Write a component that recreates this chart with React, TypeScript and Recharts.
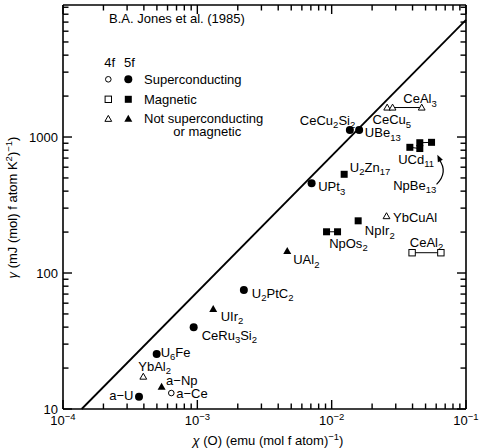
import React from 'react';
import { ScatterChart, Scatter, XAxis, YAxis, ReferenceLine } from 'recharts';

type Pt = { name: string; chi: number; gamma: number };

// 5f superconducting (filled circles)
const sc5f: Pt[] = [
  { name: 'a−U', chi: 3.68e-4, gamma: 12.3 },
  { name: 'U6Fe', chi: 4.98e-4, gamma: 25.4 },
  { name: 'CeRu3Si2', chi: 9.39e-4, gamma: 39.9 },
  { name: 'U2PtC2', chi: 2.22e-3, gamma: 75 },
  { name: 'UPt3', chi: 7.09e-3, gamma: 457 },
  { name: 'CeCu2Si2', chi: 0.01366, gamma: 1126 },
  { name: 'UBe13', chi: 0.01602, gamma: 1126 },
];
// 4f superconducting (open circles)
const sc4f: Pt[] = [{ name: 'a−Ce', chi: 6.4e-4, gamma: 13.1 }];

// magnetic (squares)
const mag5f: Pt[] = [
  { name: 'U2Zn17', chi: 0.01239, gamma: 532 },
  { name: 'NpIr2', chi: 0.01575, gamma: 242 },
];
const npOs2: Pt[] = [
  { name: 'NpOs2', chi: 0.00916, gamma: 201 },
  { name: '', chi: 0.01106, gamma: 201 },
];
const uCd11: Pt[] = [
  { name: 'UCd11', chi: 0.0382, gamma: 840 },
  { name: '', chi: 0.0453, gamma: 823 },
];
const npBe13: Pt[] = [
  { name: '', chi: 0.0453, gamma: 908 },
  { name: 'NpBe13', chi: 0.0554, gamma: 914 },
];
const ceAl2: Pt[] = [
  { name: 'CeAl2', chi: 0.0397, gamma: 141 },
  { name: '', chi: 0.065, gamma: 141 },
];

// not superconducting or magnetic (triangles)
const other5f: Pt[] = [
  { name: 'a−Np', chi: 5.42e-4, gamma: 14.6 },
  { name: 'UIr2', chi: 1.313e-3, gamma: 54.4 },
  { name: 'UAl2', chi: 4.67e-3, gamma: 145 },
];
const other4f: Pt[] = [
  { name: 'YbAl2', chi: 3.96e-4, gamma: 17.3 },
  { name: 'YbCuAl', chi: 0.0256, gamma: 262 },
  { name: 'CeCu5', chi: 0.0259, gamma: 1648 },
];
const ceAl3: Pt[] = [
  { name: '', chi: 0.0284, gamma: 1648 },
  { name: 'CeAl3', chi: 0.0468, gamma: 1648 },
];

// gamma proportional to chi
const diagonal = [
  { chi: 1.377e-4, gamma: 10 },
  { chi: 0.1, gamma: 7260 },
];

const xMajor = [1e-4, 1e-3, 1e-2, 1e-1];
const xMajorLabels = ['−4', '−3', '−2', '−1'];
const yMajor = [10, 100, 1000];
const yMajorLabels = ['10', '100', '1000'];
const minorSteps = [2, 3, 4, 5, 6, 7, 8, 9];

const X_DOMAIN: [number, number] = [1e-4, 1e-1];
const Y_DOMAIN: [number, number] = [10, 9350];

const xTicks = [
  ...xMajor,
  ...xMajor.slice(0, -1).flatMap((d) => minorSteps.map((m) => d * m)),
];
const yTicks = [
  ...yMajor,
  ...yMajor.flatMap((d) => minorSteps.map((m) => d * m)).filter((v) => v <= Y_DOMAIN[1]),
];

// label placement relative to the anchor marker: [dx, dy(centre), anchor]
const labelPos: Record<string, [number, number, 'start' | 'end']> = {
  'a−U': [-5.5, -1.5, 'end'],
  'a−Ce': [5, 0.5, 'start'],
  'a−Np': [4.5, -6.5, 'start'],
  YbAl2: [-5, -10.5, 'start'],
  U6Fe: [4, -2, 'start'],
  CeRu3Si2: [8, 7.7, 'start'],
  UIr2: [7.5, 7, 'start'],
  U2PtC2: [8, 3, 'start'],
  UAl2: [6, 8.5, 'start'],
  NpOs2: [2.6, 11.5, 'start'],
  NpIr2: [6.7, 10, 'start'],
  YbCuAl: [6.5, 1.5, 'start'],
  CeAl2: [-2.3, -10.7, 'start'],
  UPt3: [6.6, 3.4, 'start'],
  U2Zn17: [5.7, -7, 'start'],
  CeCu2Si2: [-50, -10, 'start'],
  UBe13: [5.7, 2.5, 'start'],
  CeCu5: [-14.6, 12, 'start'],
  CeAl3: [-18.4, -8.8, 'start'],
  UCd11: [-11.7, 12, 'start'],
  NpBe13: [-38.4, 43, 'start'],
};

const FONT = '"Liberation Sans", Arial, Helvetica, sans-serif';
const FS = 13;
const SUB = 9.5;
const TICK_W = 1.4;
const MAJOR_LEN = 9;
const MINOR_LEN = 5.5;

// plot rectangle (chart margins + axis sizes)
const W = 481;
const H = 448;
const PLOT = { left: 63, top: 5, right: 466, bottom: 409 };

type Kind = 'circle' | 'square' | 'triangle';

function Mark({ cx, cy, kind, open }: { cx: number; cy: number; kind: Kind; open?: boolean }) {
  const fill = open ? '#fff' : '#000';
  const sw = open ? 1 : 0;
  if (kind === 'circle') {
    return <circle cx={cx} cy={cy} r={open ? 2.8 : 4} fill={fill} stroke="#000" strokeWidth={sw} />;
  }
  if (kind === 'square') {
    const h = open ? 3.2 : 3.5;
    return <rect x={cx - h} y={cy - h} width={2 * h} height={2 * h} fill={fill} stroke="#000" strokeWidth={sw} />;
  }
  const h = open ? 3.4 : 4;
  const pts = `${cx},${cy - h} ${cx + h},${cy + h * 0.75} ${cx - h},${cy + h * 0.75}`;
  return <polygon points={pts} fill={fill} stroke="#000" strokeWidth={sw} />;
}

// digits become subscripts
function Formula({ text }: { text: string }) {
  const runs = text.match(/\d+|\D+/g) || [];
  let sub = false;
  return (
    <>
      {runs.map((r, i) => {
        const isNum = /\d/.test(r);
        let dy = 0;
        if (isNum && !sub) dy = 3.5;
        if (!isNum && sub) dy = -3.5;
        sub = isNum;
        return (
          <tspan key={i} dy={dy} fontSize={isNum ? SUB : FS}>
            {r}
          </tspan>
        );
      })}
    </>
  );
}

const shapeOf = (kind: Kind, open?: boolean) => (p: any) => <Mark cx={p.cx} cy={p.cy} kind={kind} open={open} />;

const renderLabel = (p: any) => {
  const name: string = p.payload?.name ?? p.name;
  const pos = labelPos[name];
  if (!pos) return <g />;
  const [dx, dy, anchor] = pos;
  const x = p.cx + dx;
  const y = p.cy + dy + 4.6;
  return (
    <g>
      <text x={x} y={y} textAnchor={anchor} fontSize={FS} fontFamily={FONT} fill="#000">
        <Formula text={name} />
      </text>
      {name === 'NpBe13' && (
        <g>
          <path
            d={`M${p.cx + 5},${p.cy + 42} Q${p.cx + 17},${p.cy + 30} ${p.cx + 7.5},${p.cy + 17}`}
            fill="none"
            stroke="#000"
            strokeWidth={1.2}
          />
          <polygon
            points={`${p.cx + 5.8},${p.cy + 12.5} ${p.cx + 11.3},${p.cy + 17.5} ${p.cx + 6.3},${p.cy + 19.8}`}
            fill="#000"
          />
        </g>
      )}
    </g>
  );
};

const isMajor = (v: number) => Math.abs(Math.log10(v) - Math.round(Math.log10(v))) < 1e-6;
const tickLen = (v: number) => (isMajor(v) ? MAJOR_LEN : MINOR_LEN);

function BottomTick(props: any) {
  const { x, y, payload } = props;
  const v = payload.value;
  const idx = xMajor.findIndex((m) => Math.abs(m - v) / m < 1e-6);
  if (idx < 0) return <g />;
  return (
    <text x={x} y={y + 16} textAnchor="middle" fontSize={FS} fontFamily={FONT} fill="#000">
      <tspan>10</tspan>
      <tspan dy={-5.5} fontSize={SUB}>
        {xMajorLabels[idx]}
      </tspan>
    </text>
  );
}

function LeftTick(props: any) {
  const { x, y, payload } = props;
  const v = payload.value;
  const idx = yMajor.findIndex((m) => Math.abs(m - v) / m < 1e-6);
  if (idx < 0) return <g />;
  return (
    <text x={x - 5} y={y + 4.6} textAnchor="end" fontSize={FS} fontFamily={FONT} fill="#000">
      {yMajorLabels[idx]}
    </text>
  );
}

const noTick = () => <g />;

// inward tick marks on all four sides, same log mapping as the axes
const lx = (v: number) =>
  PLOT.left +
  ((Math.log10(v) - Math.log10(X_DOMAIN[0])) / (Math.log10(X_DOMAIN[1]) - Math.log10(X_DOMAIN[0]))) *
    (PLOT.right - PLOT.left);
const ly = (v: number) =>
  PLOT.bottom -
  ((Math.log10(v) - Math.log10(Y_DOMAIN[0])) / (Math.log10(Y_DOMAIN[1]) - Math.log10(Y_DOMAIN[0]))) *
    (PLOT.bottom - PLOT.top);

function TickMarks() {
  const half = TICK_W / 2;
  return (
    <g fill="#000">
      {xTicks.map((v, i) => {
        const x = lx(v);
        const len = tickLen(v);
        return (
          <g key={`x${i}`}>
            <rect x={x - half} y={PLOT.bottom - len} width={TICK_W} height={len} />
            <rect x={x - half} y={PLOT.top} width={TICK_W} height={len} />
          </g>
        );
      })}
      {yTicks.map((v, i) => {
        const y = ly(v);
        const len = tickLen(v);
        return (
          <g key={`y${i}`}>
            <rect x={PLOT.left} y={y - half} width={len} height={TICK_W} />
            <rect x={PLOT.right - len} y={y - half} width={len} height={TICK_W} />
          </g>
        );
      })}
    </g>
  );
}

const labelled: Pt[] = [sc5f, sc4f, mag5f, npOs2, uCd11, npBe13, ceAl2, other5f, other4f, ceAl3]
  .flat()
  .filter((p) => p.name);

const axisLine = { stroke: '#000', strokeWidth: 1.6 };
const rangeLine = { stroke: '#000', strokeWidth: 1 };

function Overlay() {
  return (
    <svg
      width={W}
      height={H}
      style={{ position: 'absolute', left: 0, top: 0, pointerEvents: 'none' }}
      fontFamily={FONT}
      fontSize={FS}
    >
      <TickMarks />

      <text x={109} y={22.5}>B.A. Jones et al. (1985)</text>

      <text x={109.7} y={67} textAnchor="middle">4f</text>
      <text x={129.5} y={67} textAnchor="middle">5f</text>
      <Mark cx={108.3} cy={79.3} kind="circle" open />
      <Mark cx={128.3} cy={79.3} kind="circle" />
      <text x={144} y={84}>Superconducting</text>
      <Mark cx={108.3} cy={99.3} kind="square" open />
      <Mark cx={128.3} cy={99.3} kind="square" />
      <text x={144} y={104}>Magnetic</text>
      <Mark cx={108.3} cy={118.8} kind="triangle" open />
      <Mark cx={128.3} cy={118.8} kind="triangle" />
      <text x={144} y={123}>Not superconducting</text>
      <text x={173.3} y={136}>or magnetic</text>

      <text x={268} y={445} textAnchor="middle">
        <tspan fontStyle="italic">χ</tspan>
        <tspan> (O) (emu (mol f atom)</tspan>
        <tspan dy={-5.5} fontSize={SUB}>−1</tspan>
        <tspan dy={5.5}>)</tspan>
      </text>

      <text x={17} y={207.5} textAnchor="middle" transform="rotate(-90 17 207.5)">
        <tspan fontStyle="italic">γ</tspan>
        <tspan> (mJ (mol) f atom K</tspan>
        <tspan dy={-5.5} fontSize={SUB}>2</tspan>
        <tspan dy={5.5}>)</tspan>
        <tspan dy={-5.5} fontSize={SUB}>−1</tspan>
        <tspan dy={5.5}>)</tspan>
      </text>
    </svg>
  );
}

export default function App() {
  return (
    <div style={{ position: 'absolute', left: 0, top: 0, width: W, height: H }}>
      <ScatterChart
        width={W}
        height={H}
        margin={{ top: 4, right: 14, bottom: 0, left: 0 }}
        style={{ fontFamily: FONT }}
      >
        <XAxis
          dataKey="chi"
          type="number"
          scale="log"
          domain={X_DOMAIN}
          allowDataOverflow
          ticks={xTicks}
          interval={0}
          height={39}
          tickSize={0}
          tickMargin={0}
          tickLine={false}
          axisLine={axisLine}
          tick={<BottomTick />}
        />
        <XAxis
          xAxisId="top"
          orientation="top"
          dataKey="chi"
          type="number"
          scale="log"
          domain={X_DOMAIN}
          allowDataOverflow
          ticks={xMajor}
          height={1}
          tickSize={0}
          tickMargin={0}
          tickLine={false}
          axisLine={axisLine}
          tick={noTick}
        />
        <YAxis
          dataKey="gamma"
          type="number"
          scale="log"
          domain={Y_DOMAIN}
          allowDataOverflow
          ticks={yTicks}
          interval={0}
          width={63}
          tickSize={0}
          tickMargin={0}
          tickLine={false}
          axisLine={axisLine}
          tick={<LeftTick />}
        />
        <YAxis
          yAxisId="right"
          orientation="right"
          dataKey="gamma"
          type="number"
          scale="log"
          domain={Y_DOMAIN}
          allowDataOverflow
          ticks={yMajor}
          width={1}
          tickSize={0}
          tickMargin={0}
          tickLine={false}
          axisLine={axisLine}
          tick={noTick}
        />

        <ReferenceLine
          segment={[
            { x: diagonal[0].chi, y: diagonal[0].gamma },
            { x: diagonal[1].chi, y: diagonal[1].gamma },
          ]}
          stroke="#000"
          strokeWidth={1.8}
          ifOverflow="visible"
        />

        <Scatter data={sc5f} shape={shapeOf('circle')} isAnimationActive={false} />
        <Scatter data={sc4f} shape={shapeOf('circle', true)} isAnimationActive={false} />
        <Scatter data={mag5f} shape={shapeOf('square')} isAnimationActive={false} />
        <Scatter data={npOs2} line={rangeLine} lineType="joint" shape={shapeOf('square')} isAnimationActive={false} />
        <Scatter data={uCd11} line={rangeLine} lineType="joint" shape={shapeOf('square')} isAnimationActive={false} />
        <Scatter data={npBe13} line={rangeLine} lineType="joint" shape={shapeOf('square')} isAnimationActive={false} />
        <Scatter data={ceAl2} line={rangeLine} lineType="joint" shape={shapeOf('square', true)} isAnimationActive={false} />
        <Scatter data={other5f} shape={shapeOf('triangle')} isAnimationActive={false} />
        <Scatter data={other4f} shape={shapeOf('triangle', true)} isAnimationActive={false} />
        <Scatter data={ceAl3} line={rangeLine} lineType="joint" shape={shapeOf('triangle', true)} isAnimationActive={false} />
        <Scatter data={labelled} shape={renderLabel} isAnimationActive={false} />
      </ScatterChart>
      <Overlay />
    </div>
  );
}
